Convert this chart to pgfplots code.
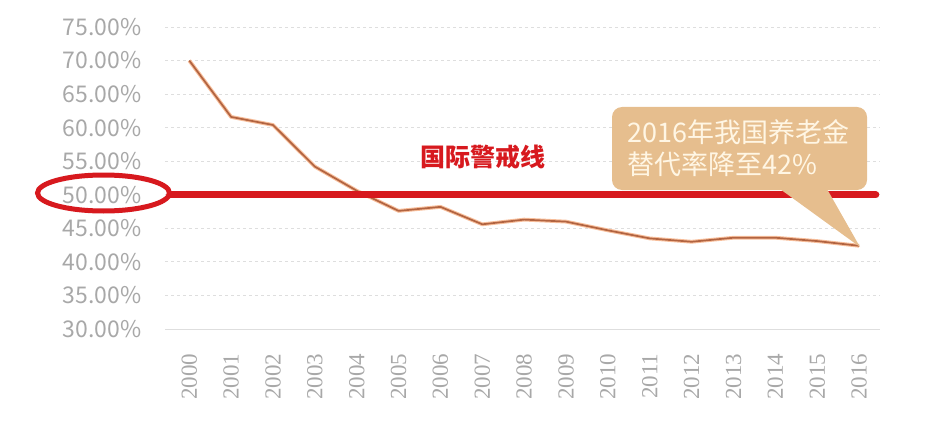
\documentclass[border=0pt]{standalone}
\usepackage{pgfplots}
\pgfplotsset{compat=1.18}
\usepackage{fontspec}
\setmainfont{Noto Sans CJK SC}
\newfontfamily\serifnum{Liberation Serif}
\definecolor{ticktxt}{RGB}{168,168,168}
\definecolor{gridc}{RGB}{222,222,222}
\definecolor{linec}{RGB}{178,100,65}
\definecolor{haloc}{RGB}{247,190,155}
\definecolor{warnred}{RGB}{215,25,30}
\definecolor{callout}{RGB}{230,190,142}
\definecolor{callouttxt}{RGB}{255,246,228}
\pgfplotstableread{
year rate
2000 70.0
2001 61.6
2002 60.4
2003 54.2
2004 50.6
2005 47.6
2006 48.2
2007 45.6
2008 46.3
2009 46.0
2010 44.7
2011 43.5
2012 43.0
2013 43.6
2014 43.6
2015 43.1
2016 42.4
}\ratedata
\begin{document}
\begin{tikzpicture}
\useasboundingbox (0pt,0pt) rectangle (941pt,421pt);
\begin{axis}[
  at={(165pt,92pt)}, anchor=south west,
  scale only axis, width=715pt, height=302pt,
  xmin=1999.42, xmax=2016.5,
  ymin=30, ymax=75,
  axis line style={draw=none},
  xtick={2000,2001,...,2016},
  ytick={30,35,...,75},
  major tick length=0pt,
  ymajorgrids,
  grid style={gridc, dashed, line width=0.8pt},
  clip=false,
  /pgf/number format/assume math mode=true,
  xticklabel={\serifnum\pgfmathprintnumber[1000 sep={}]{\tick}},
  xticklabel style={rotate=90, anchor=east, font=\fontsize{23}{23}\selectfont, text=ticktxt, xshift=-21pt},
  yticklabel={\pgfmathprintnumber[fixed,fixed zerofill,precision=2]{\tick}\%},
  yticklabel style={anchor=east, font=\fontsize{23}{23}\selectfont, text=ticktxt, xshift=-20pt},
]
\addplot[gridc, line width=1pt, forget plot] coordinates {(1999.42,30) (2016.5,30)};
\addplot[haloc, line width=3.8pt, line join=round] table[x=year,y=rate] {\ratedata};
\addplot[linec, line width=1.7pt, line join=round] table[x=year,y=rate] {\ratedata};
\addplot[warnred, line width=7pt, line cap=round] coordinates {(1999.55,50) (2016.4,50)};
\end{axis}
% red ellipse around 50.00%
\draw[warnred, line width=5pt] (103.5pt,228pt) ellipse [x radius=66pt, y radius=18pt];
% label
\node[text=warnred, font=\fontsize{25}{25}\selectfont\bfseries] at (483pt,264pt) {国际警戒线};
% callout
\fill[callout, rounded corners=10pt] (612pt,231pt) rectangle (867pt,314pt);
\fill[callout] (780pt,232pt) -- (827pt,232pt) -- (860pt,174pt) -- cycle;
\node[text=callouttxt, font=\fontsize{27}{32}\selectfont, align=left, anchor=west] at (624pt,272.5pt) {2016年我国养老金\\替代率降至42\%};
\end{tikzpicture}
\end{document}
